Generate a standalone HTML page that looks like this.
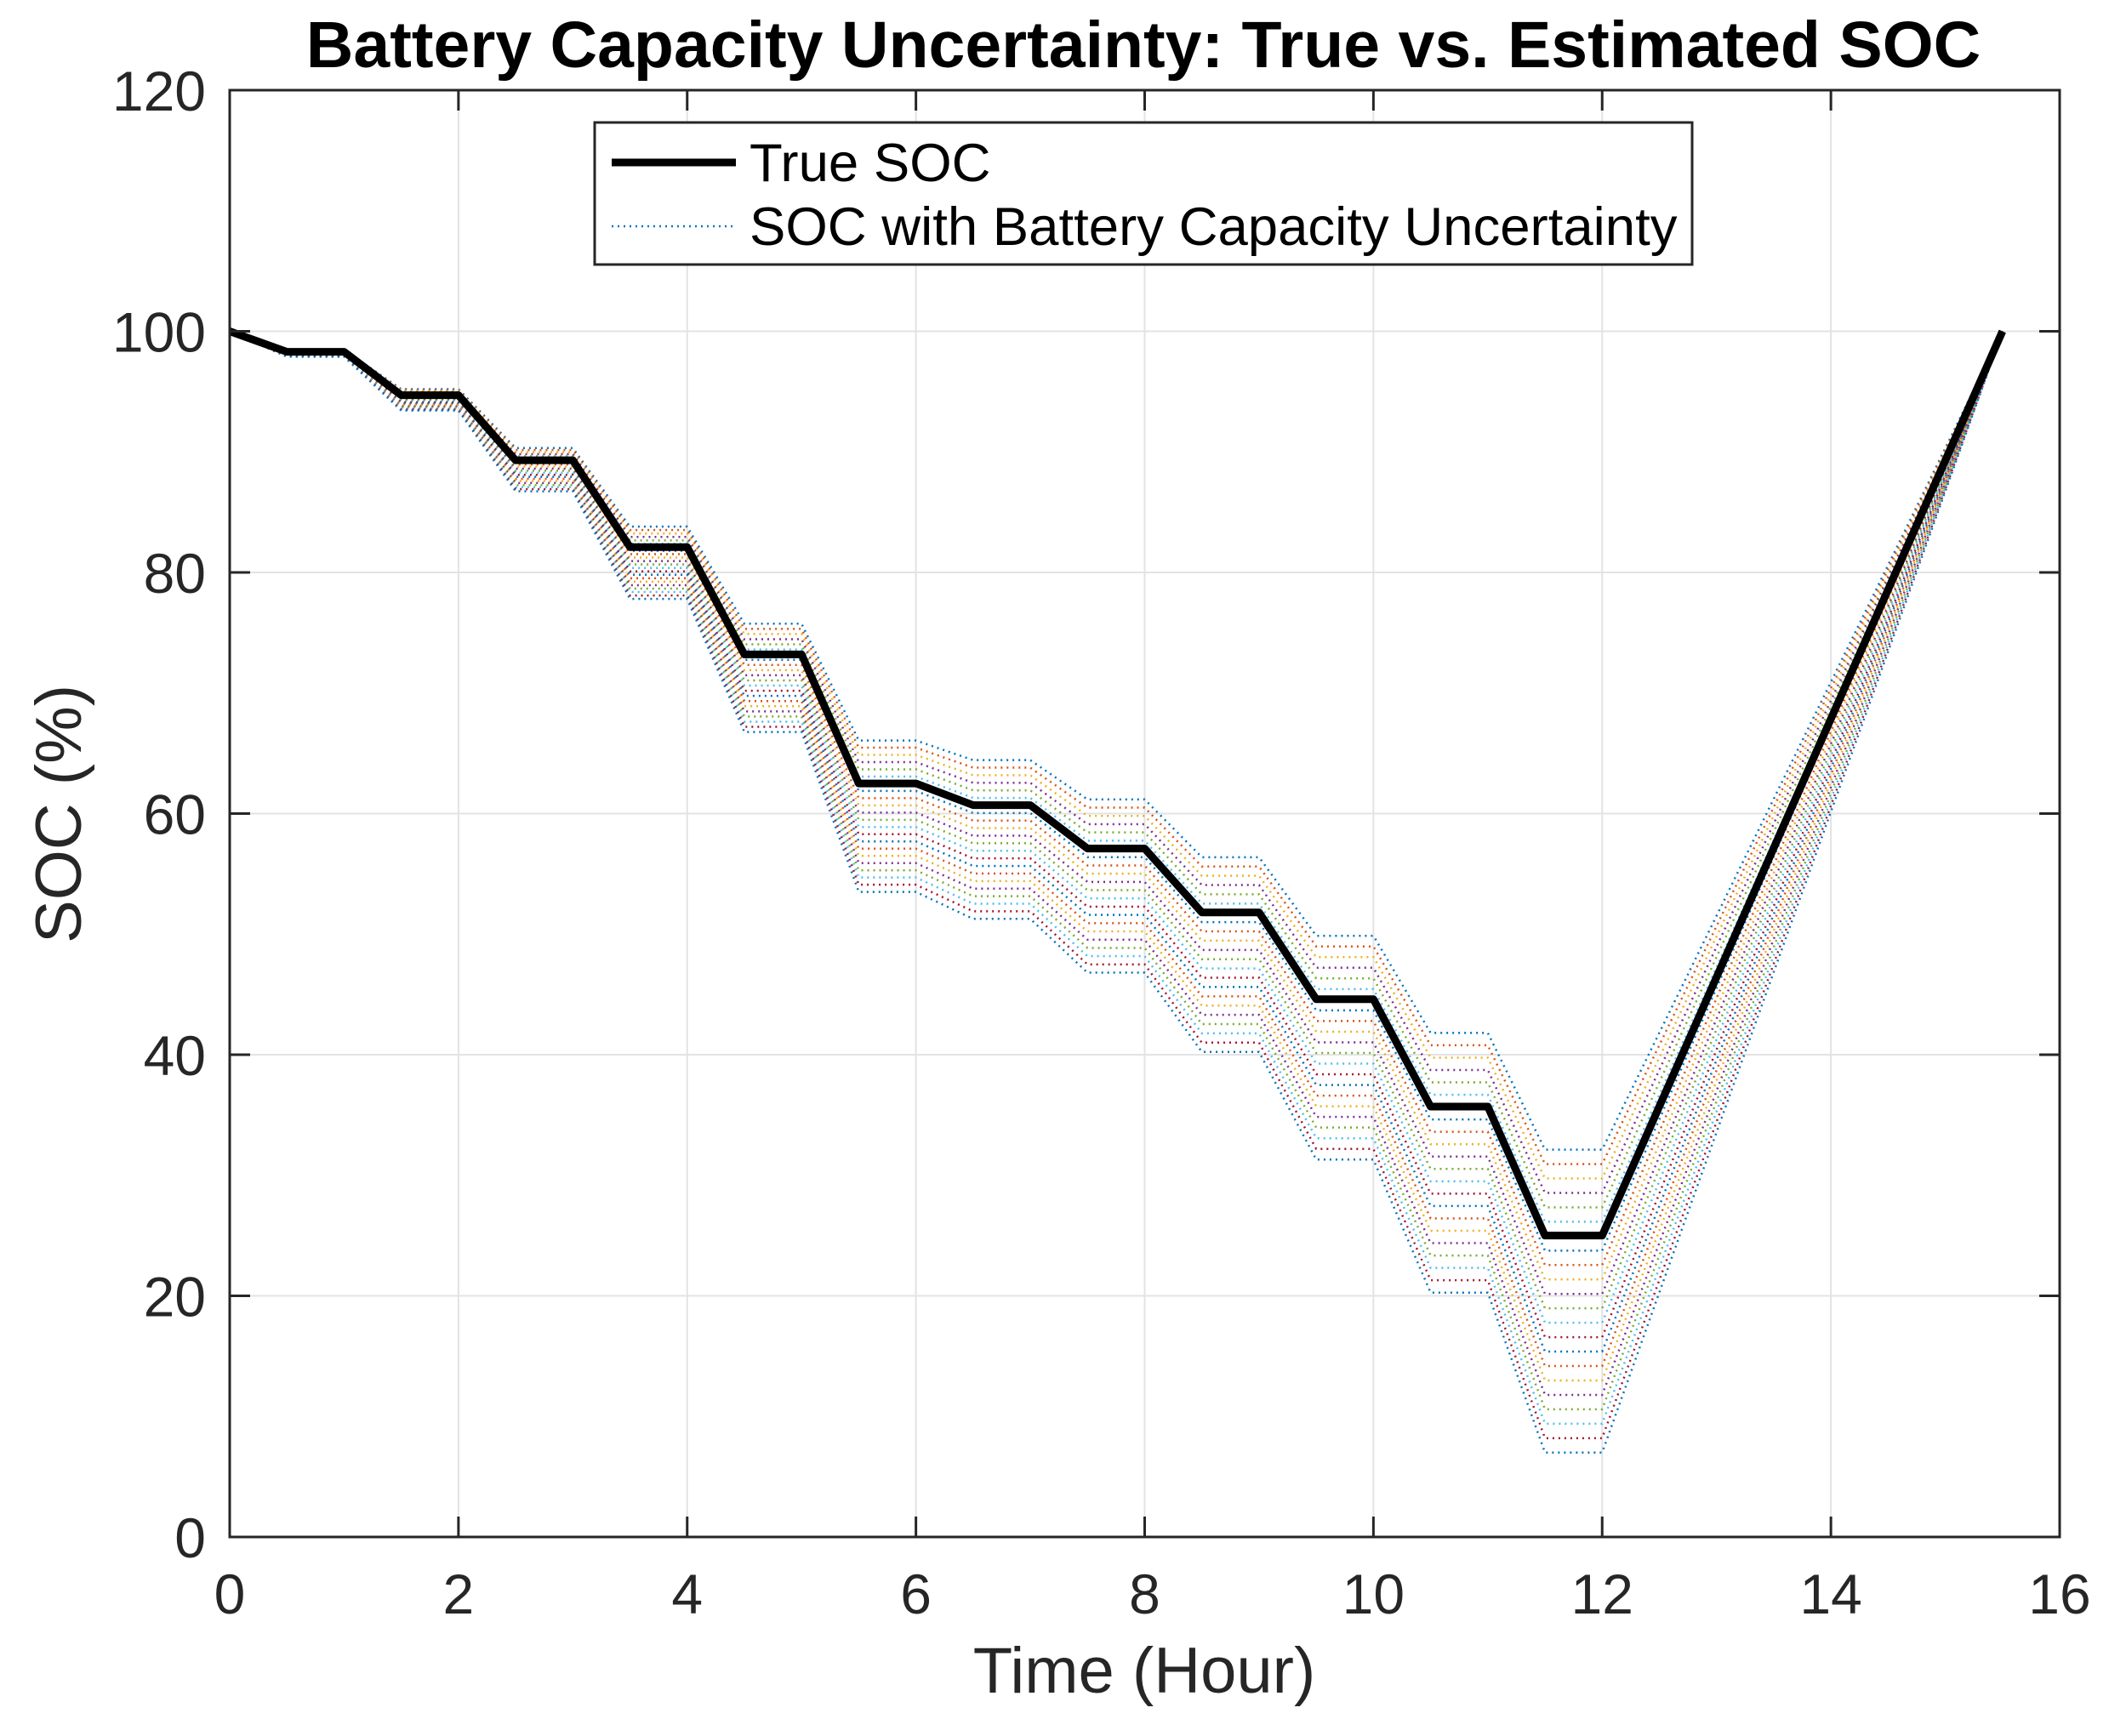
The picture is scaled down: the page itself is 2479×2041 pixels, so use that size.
<!DOCTYPE html>
<html><head><meta charset="utf-8"><style>
html,body{margin:0;padding:0;background:#fff;}
svg{display:block;font-family:"Liberation Sans",Arial,sans-serif;}
</style></head><body>
<svg id="s" width="2479" height="2041" viewBox="0 0 2479 2041" xmlns="http://www.w3.org/2000/svg">
<rect width="2479" height="2041" fill="#fff"/>
<g id="grid" stroke="#e3e3e3" stroke-width="2"></g>
<g id="curves"></g>
<g id="axes"></g>
<text x="1344" y="79" font-size="77" font-weight="bold" text-anchor="middle" fill="#000">Battery Capacity Uncertainty: True vs. Estimated SOC</text>
<text x="1345" y="1990" font-size="76" text-anchor="middle" fill="#262626">Time (Hour)</text>
<text transform="translate(95,957) rotate(-90)" font-size="76" text-anchor="middle" fill="#262626">SOC (%)</text>
<rect x="699" y="144" width="1290" height="167" fill="#fff" stroke="#262626" stroke-width="3"/>
<line x1="719" y1="191" x2="865" y2="191" stroke="#000" stroke-width="9"/>
<line x1="719" y1="266" x2="865" y2="266" stroke="#0072BD" stroke-width="2.5" stroke-dasharray="2 5"/>
<text x="881" y="213" font-size="63.5" fill="#000">True SOC</text>
<text x="881" y="288" font-size="63.5" fill="#000">SOC with Battery Capacity Uncertainty</text>
</svg>
<script>
var X0=270,X1=2421,Y0=1807,YT=106;
function px(t){return X0+(X1-X0)*t/16}
function py(v){return Y0-(Y0-YT)*v/120}
var ns="http://www.w3.org/2000/svg",s=document.getElementById('s');
function el(p,tag,a){var e=document.createElementNS(ns,tag);for(var k in a)e.setAttribute(k,a[k]);p.appendChild(e);return e}
var g=document.getElementById('grid'),ax=document.getElementById('axes');
for(var t=2;t<16;t+=2)el(g,'line',{x1:px(t),y1:YT,x2:px(t),y2:Y0});
for(var v=20;v<120;v+=20)el(g,'line',{x1:X0,y1:py(v),x2:X1,y2:py(v)});
var T=[0,0.5,1,1.5,2,2.5,3,3.5,4,4.5,5,5.5,6,6.5,7,7.5,8,8.5,9,9.5,10,10.5,11,11.5,12];
var S=[100,98.3,98.3,94.7,94.7,89.3,89.3,82.1,82.1,73.2,73.2,62.5,62.5,60.7,60.7,57.1,57.1,51.8,51.8,44.6,44.6,35.7,35.7,25,25];
var cols=['#0072BD','#D95319','#EDB120','#7E2F8E','#77AC30','#4DBEEE','#A2142F'];
var cv=document.getElementById('curves');
var N=22;
for(var k=0;k<N;k++){
 var c=0.905+(1.24-0.905)*k/(N-1);
 var pts=[];
 for(var i=0;i<T.length;i++){pts.push(px(T[i])+','+py(100-(100-S[i])*c));}
 pts.push(px(15.5)+','+py(100));
 el(cv,'polyline',{points:pts.join(' '),fill:'none',stroke:cols[k%7],'stroke-width':2.5,'stroke-dasharray':'2 5'});
}
var tp=[];for(var i=0;i<T.length;i++)tp.push(px(T[i])+','+py(S[i]));tp.push(px(15.5)+','+py(100));
el(cv,'polyline',{points:tp.join(' '),fill:'none',stroke:'#000','stroke-width':9,'stroke-linejoin':'round'});
el(ax,'rect',{x:X0,y:YT,width:X1-X0,height:Y0-YT,fill:'none',stroke:'#262626','stroke-width':3});
for(var t=0;t<=16;t+=2){
 el(ax,'line',{x1:px(t),y1:Y0,x2:px(t),y2:Y0-24,stroke:'#262626','stroke-width':3});
 el(ax,'line',{x1:px(t),y1:YT,x2:px(t),y2:YT+24,stroke:'#262626','stroke-width':3});
 var tx=el(ax,'text',{x:px(t),y:1897,'font-size':66,'text-anchor':'middle',fill:'#262626'});tx.textContent=t;
}
for(var v=0;v<=120;v+=20){
 el(ax,'line',{x1:X0,y1:py(v),x2:X0+24,y2:py(v),stroke:'#262626','stroke-width':3});
 el(ax,'line',{x1:X1,y1:py(v),x2:X1-24,y2:py(v),stroke:'#262626','stroke-width':3});
 var ty=el(ax,'text',{x:242,y:py(v)+24,'font-size':66,'text-anchor':'end',fill:'#262626'});ty.textContent=v;
}
</script>
</body></html>
